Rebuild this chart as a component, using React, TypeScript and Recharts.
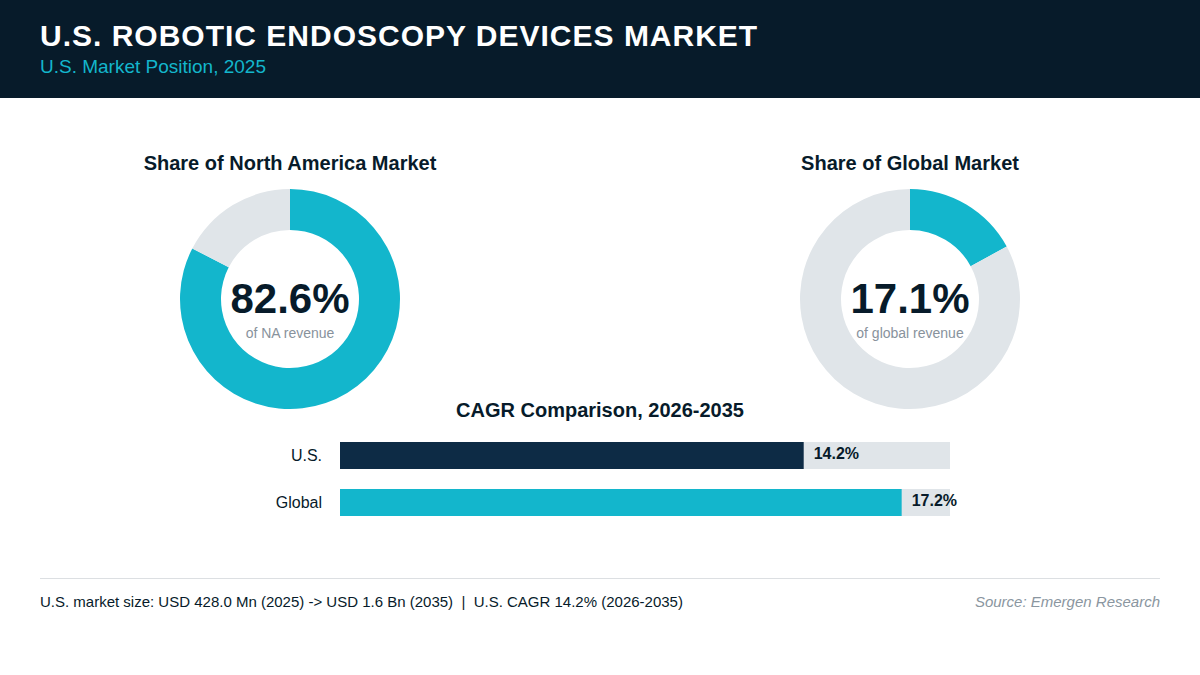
import { PieChart, Pie, Cell, BarChart, Bar, XAxis, YAxis, LabelList } from 'recharts';

const FONT = '"Liberation Sans", Arial, sans-serif';
const TEAL = '#13b6cc';
const GREY = '#e0e5e9';
const NAVY = '#0d2b45';
const INK = '#071b2a';

const naShare = [
  { name: 'U.S.', value: 82.6 },
  { name: 'Rest', value: 17.4 },
];
const globalShare = [
  { name: 'U.S.', value: 17.1 },
  { name: 'Rest', value: 82.9 },
];
const naColors = [TEAL, GREY];
const globalColors = [TEAL, GREY];

const cagrRegions = ['U.S.', 'Global'];
const cagrValues = [14.2, 17.2];
const cagrColors = [NAVY, TEAL];
const cagrTrackMax = 18.68;
const cagrData = cagrRegions.map((region, i) => ({
  region,
  value: cagrValues[i],
  track: cagrTrackMax,
}));

function Donut({ left, title, data, colors, big, small }: any) {
  return (
    <div style={{ position: 'absolute', left, top: 150, width: 300, height: 262 }}>
      <div style={{ position: 'absolute', top: 0, width: 300, textAlign: 'center', fontSize: 20, fontWeight: 700, color: INK, lineHeight: '26px', whiteSpace: 'nowrap' }}>
        {title}
      </div>
      <div style={{ position: 'absolute', top: 38 }}>
        <PieChart width={300} height={222} margin={{ top: 0, right: 0, bottom: 0, left: 0 }}>
          <Pie
            data={data}
            dataKey="value"
            cx={150}
            cy={111}
            innerRadius={69}
            outerRadius={110}
            startAngle={90}
            endAngle={-270}
            stroke="none"
            isAnimationActive={false}
          >
            {data.map((d: any, i: number) => (
              <Cell key={d.name} fill={colors[i]} />
            ))}
          </Pie>
        </PieChart>
      </div>
      <div style={{ position: 'absolute', top: 124, width: 300, textAlign: 'center', fontSize: 42, fontWeight: 700, color: INK, lineHeight: '50px' }}>
        {big}
      </div>
      <div style={{ position: 'absolute', top: 174, width: 300, textAlign: 'center', fontSize: 14, color: '#88929c', lineHeight: '18px' }}>
        {small}
      </div>
    </div>
  );
}

export default function App() {
  return (
    <div style={{ position: 'absolute', left: 0, top: 0, width: 1200, height: 675, background: '#fff', fontFamily: FONT, overflow: 'hidden' }}>
      <div style={{ position: 'absolute', left: 0, top: 0, width: 1200, height: 98, background: '#071b2a' }} />
      <div style={{ position: 'absolute', left: 40, top: 18, fontSize: 30, fontWeight: 700, letterSpacing: 1, color: '#fff', lineHeight: '36px', whiteSpace: 'nowrap' }}>
        U.S. ROBOTIC ENDOSCOPY DEVICES MARKET
      </div>
      <div style={{ position: 'absolute', left: 40, top: 55, fontSize: 19, color: TEAL, lineHeight: '23px', whiteSpace: 'nowrap' }}>
        U.S. Market Position, 2025
      </div>

      <Donut left={140} title="Share of North America Market" data={naShare} colors={naColors} big="82.6%" small="of NA revenue" />
      <Donut left={760} title="Share of Global Market" data={globalShare} colors={globalColors} big="17.1%" small="of global revenue" />

      <div style={{ position: 'absolute', left: 0, top: 397, width: 1200, textAlign: 'center', fontSize: 20, fontWeight: 700, color: INK, lineHeight: '26px' }}>
        CAGR Comparison, 2026-2035
      </div>
      <div style={{ position: 'absolute', left: 0, top: 432 }}>
        <BarChart
          width={1000}
          height={94}
          data={cagrData}
          layout="vertical"
          barSize={27}
          barGap={-27}
          margin={{ top: 0, right: 50, bottom: 0, left: 240 }}
        >
          <XAxis type="number" domain={[0, cagrTrackMax]} hide />
          <YAxis
            type="category"
            dataKey="region"
            width={100}
            axisLine={false}
            tickLine={false}
            tickMargin={12}
            tick={{ fill: INK, fontSize: 16, fontFamily: FONT }}
          />
          <Bar dataKey="track" fill={GREY} isAnimationActive={false} />
          <Bar dataKey="value" isAnimationActive={false}>
            {cagrData.map((d, i) => (
              <Cell key={d.region} fill={cagrColors[i]} />
            ))}
            <LabelList
              dataKey="value"
              position="right"
              offset={10}
              dy={-2}
              formatter={(v: any) => `${v}%`}
              style={{ fill: INK, fontSize: 16, fontWeight: 700, fontFamily: FONT }}
            />
          </Bar>
        </BarChart>
      </div>

      <div style={{ position: 'absolute', left: 40, top: 578, width: 1120, height: 1, background: '#dcdfe2' }} />
      <div style={{ position: 'absolute', left: 40, top: 592, fontSize: 15, color: INK, lineHeight: '20px', whiteSpace: 'pre' }}>
        {'U.S. market size: USD 428.0 Mn (2025) -> USD 1.6 Bn (2035)  |  U.S. CAGR 14.2% (2026-2035)'}
      </div>
      <div style={{ position: 'absolute', right: 40, top: 592, fontSize: 15, fontStyle: 'italic', color: '#8a96a0', lineHeight: '20px', whiteSpace: 'nowrap' }}>
        Source: Emergen Research
      </div>
    </div>
  );
}
